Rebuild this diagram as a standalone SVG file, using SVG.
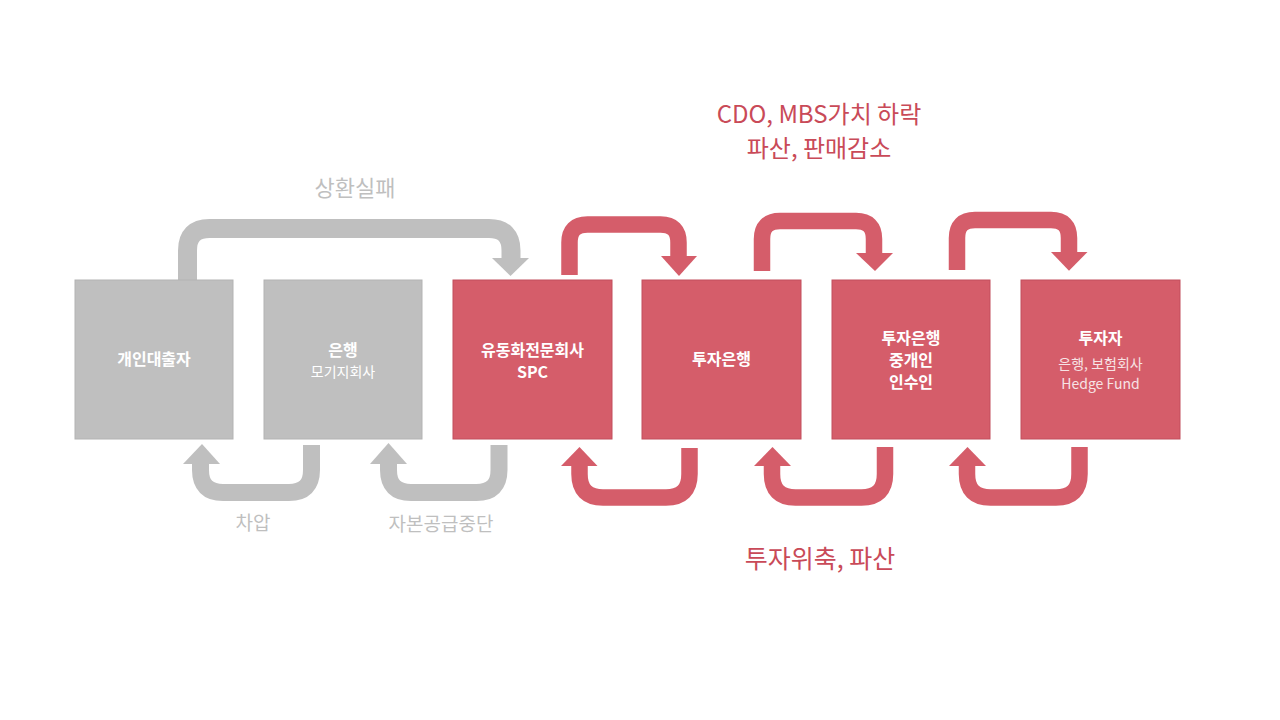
<svg xmlns="http://www.w3.org/2000/svg" width="1280" height="720" viewBox="0 0 1280 720">
<style>
  .gbox{fill:#bfbfbf;stroke:#b3b3b3;stroke-width:1}
  .rbox{fill:#d55d6a;stroke:#c24f5c;stroke-width:1}
  .gline{fill:none;stroke:#bfbfbf}
  .rline{fill:none;stroke:#d55d6a;stroke-width:16.5}
  .ghead{fill:#bfbfbf}
  .rhead{fill:#d55d6a}
  text{font-family:"Noto Sans CJK KR","Noto Sans",sans-serif;text-anchor:middle}
  .nt{fill:#ffffff;font-size:16px;font-weight:bold}
  .ns{fill:#ffffff;font-size:14px}
  .nsp{fill:#f7e3e5;font-size:14px}
  .gl{fill:#bfbfbf}
  .rl{fill:#c94a58}
</style>
<rect width="1280" height="720" fill="#ffffff"/>
<g id="connectors">
  <path class="gline" stroke-width="19" d="M187.5,280 V250.5 Q187.5,228.5 209.5,228.5 H489 Q511,228.5 511,250.5 V259"/>
  <polygon class="ghead" points="492,258 529,258 510.5,276"/>
  <path class="rline" d="M569.5,275 V242.5 Q569.5,224.5 587.5,224.5 H660.5 Q678.5,224.5 678.5,242.5 V257"/>
  <polygon class="rhead" points="661,256 697,256 679,276"/>
  <path class="rline" d="M762,271 V239 Q762,221 780,221 H856 Q874,221 874,239 V254"/>
  <polygon class="rhead" points="856,253 893,253 875,271"/>
  <path class="rline" d="M957,270 V238 Q957,220 975,220 H1051 Q1069,220 1069,238 V253"/>
  <polygon class="rhead" points="1051,252 1087.5,252 1069,270.7"/>
  <path class="gline" stroke-width="17" d="M311.5,445 V470 Q311.5,492.5 289,492.5 H223 Q200.5,492.5 200.5,470 V463"/>
  <polygon class="ghead" points="183,464 220,464 202,444"/>
  <path class="gline" stroke-width="17" d="M499,445 V470 Q499,492.5 476.5,492.5 H411 Q388.5,492.5 388.5,470 V463"/>
  <polygon class="ghead" points="370,464 407,464 388.5,443"/>
  <path class="rline" d="M689.5,448 V474 Q689.5,497.5 666,497.5 H603 Q579.5,497.5 579.5,474 V465"/>
  <polygon class="rhead" points="561,466 597.5,466 579.5,447"/>
  <path class="rline" d="M885,447 V474 Q885,497.5 861.5,497.5 H795.5 Q772,497.5 772,474 V465"/>
  <polygon class="rhead" points="754,466 791,466 772.5,447"/>
  <path class="rline" d="M1079.5,447 V474 Q1079.5,497.5 1056,497.5 H990.5 Q967,497.5 967,474 V465"/>
  <polygon class="rhead" points="949,466 986,466 967.5,447"/>
</g>
<g id="node-borrower">
  <rect class="gbox" x="75" y="280" width="158" height="159"/>
  <text class="nt" x="154" y="365">개인대출자</text>
</g>
<g id="node-bank">
  <rect class="gbox" x="264" y="280" width="158" height="159"/>
  <text class="nt" x="343" y="356">은행</text>
  <text class="ns" x="343" y="377">모기지회사</text>
</g>
<g id="node-spc">
  <rect class="rbox" x="453" y="280" width="159" height="159"/>
  <text class="nt" x="532.5" y="356">유동화전문회사</text>
  <text class="nt" x="532.5" y="378">SPC</text>
</g>
<g id="node-ib">
  <rect class="rbox" x="642" y="280" width="159" height="159"/>
  <text class="nt" x="721.5" y="365">투자은행</text>
</g>
<g id="node-broker">
  <rect class="rbox" x="832" y="280" width="158" height="159"/>
  <text class="nt" x="911" y="344">투자은행</text>
  <text class="nt" x="911" y="366">중개인</text>
  <text class="nt" x="911" y="388">인수인</text>
</g>
<g id="node-investor">
  <rect class="rbox" x="1021" y="280" width="159" height="159"/>
  <text class="nt" x="1100.5" y="344">투자자</text>
  <text class="nsp" x="1100.5" y="369">은행, 보험회사</text>
  <text class="nsp" x="1100.5" y="389">Hedge Fund</text>
</g>
<g id="labels">
  <text class="gl" x="355" y="196" font-size="22">상환실패</text>
  <text class="rl" x="819" y="123" font-size="24">CDO, MBS가치 하락</text>
  <text class="rl" x="819" y="157" font-size="24">파산, 판매감소</text>
  <text class="gl" x="253" y="530" font-size="19">차압</text>
  <text class="gl" x="441" y="531" font-size="19">자본공급중단</text>
  <text class="rl" x="820" y="568" font-size="25">투자위축, 파산</text>
</g>
</svg>
